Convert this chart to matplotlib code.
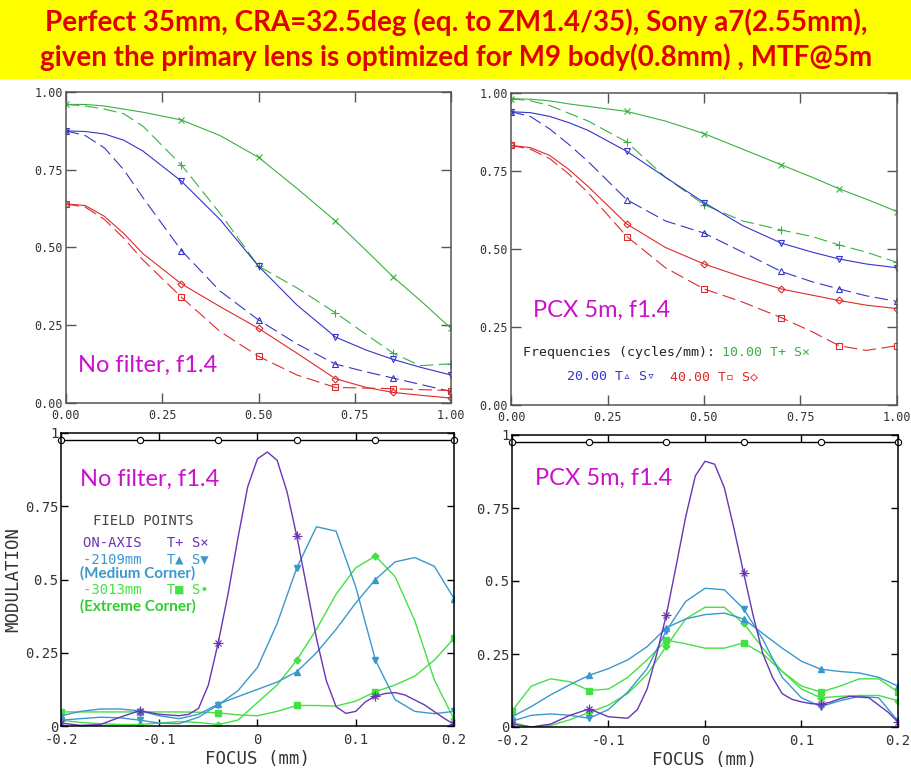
"""MTF vs field and through-focus MTF: no filter vs PCX 5m, Sony a7 sensor stack."""

import matplotlib

matplotlib.use("Agg")
import matplotlib.pyplot as plt
from matplotlib.patches import Rectangle

# ---- top row: MTF vs normalised field ----
FIELD = [0, 0.05, 0.1, 0.15, 0.2, 0.3, 0.4, 0.5, 0.6, 0.7, 0.78, 0.85, 0.92, 1.0]
FIELD_MARKS = [0, 0.3, 0.5, 0.7, 0.85, 1.0]

# no filter
NF_10_S = [.96, .96, .955, .945, .935, .91, .86, .79, .69, .585, .49, .405, .33, .24]
NF_10_T = [.96, .955, .945, .93, .89, .765, .61, .44, .37, .29, .22, .16, .12, .126]
NF_20_S = [.875, .873, .865, .845, .81, .713, .59, .44, .315, .212, .17, .14, .115, .09]
NF_20_T = [.875, .86, .82, .75, .66, .49, .36, .267, .19, .125, .10, .08, .06, .037]
NF_40_S = [.64, .635, .60, .545, .48, .383, .31, .24, .16, .078, .05, .034, .025, .016]
NF_40_T = [.64, .63, .59, .53, .46, .34, .23, .15, .09, .05, .048, .046, .043, .04]

# PCX 5m
PC_10_S = [.982, .98, .975, .965, .957, .941, .91, .87, .82, .77, .73, .693, .66, .62]
PC_10_T = [.982, .975, .96, .935, .91, .843, .73, .642, .59, .561, .54, .513, .49, .457]
PC_20_S = [.94, .937, .925, .905, .88, .813, .73, .649, .575, .519, .49, .468, .452, .44]
PC_20_T = [.94, .925, .885, .835, .78, .658, .59, .551, .49, .428, .395, .372, .35, .332]
PC_40_S = [.832, .825, .80, .755, .70, .58, .505, .452, .41, .372, .352, .335, .32, .309]
PC_40_T = [.832, .82, .79, .74, .68, .54, .44, .372, .33, .28, .235, .19, .175, .19]

# ---- bottom row: through-focus MTF ----
FOCUS = [-0.2, -0.18, -0.16, -0.14, -0.12, -0.1, -0.08, -0.06, -0.04, -0.02, 0.0,
         0.02, 0.04, 0.06, 0.08, 0.1, 0.12, 0.14, 0.16, 0.18, 0.2]
FOCUS_MARKS = [-0.2, -0.12, -0.04, 0.04, 0.12, 0.2]
FOCUS_AXIS = [-0.2, -0.18, -0.16, -0.14, -0.12, -0.1, -0.08, -0.07, -0.06, -0.05, -0.04,
              -0.03, -0.02, -0.01, 0.0, 0.01, 0.02, 0.03, 0.04, 0.05, 0.06, 0.07, 0.08,
              0.09, 0.1, 0.11, 0.12, 0.13, 0.14, 0.15, 0.17, 0.19, 0.2]
DIFF_LIMIT = [0.975, 0.975, 0.975, 0.975, 0.975, 0.975]

NF_AXIS = [.01, .002, .005, .03, .052, .04, .035, .04, .06, .14, .284, .45, .64, .816,
           .912, .935, .907, .80, .648, .475, .30, .155, .066, .043, .05, .083, .102,
           .111, .114, .106, .072, .026, .006]
NF_MED_T = [.035, .05, .058, .058, .052, .035, .025, .04, .075, .10, .125, .15, .185,
            .25, .33, .42, .50, .56, .575, .545, .435]
NF_MED_S = [.02, .025, .03, .028, .02, .01, .008, .03, .072, .12, .20, .35, .54, .68,
            .665, .475, .225, .09, .05, .042, .05]
NF_EXT_T = [.048, .048, .048, .048, .048, .048, .048, .047, .045, .038, .035, .05, .07,
            .07, .068, .085, .117, .14, .17, .225, .299]
NF_EXT_S = [.02, .012, .008, .005, .005, .01, .015, .012, .005, .02, .08, .14, .225,
            .33, .45, .54, .58, .51, .36, .157, .023]

PC_AXIS = [.01, .0, .01, .04, .062, .035, .03, .06, .13, .25, .385, .55, .72, .86,
           .91, .90, .82, .68, .528, .38, .25, .17, .114, .095, .086, .08, .078, .085,
           .097, .105, .10, .05, .017]
PC_MED_T = [.035, .07, .11, .145, .177, .20, .23, .275, .34, .37, .385, .39, .37, .32,
            .27, .225, .198, .19, .185, .17, .14]
PC_MED_S = [.02, .04, .045, .04, .03, .06, .12, .20, .33, .43, .475, .47, .405, .30,
            .17, .10, .07, .09, .105, .10, .02]
PC_EXT_T = [.055, .14, .165, .155, .125, .13, .17, .23, .297, .285, .27, .27, .288, .25,
            .19, .14, .12, .14, .165, .165, .12]
PC_EXT_S = [.015, .0, .005, .025, .05, .075, .115, .18, .277, .37, .41, .41, .355, .27,
            .19, .13, .10, .105, .108, .108, .09]

GREEN, BLUE, RED = "#3cb043", "#3535c8", "#dd2b2b"
PURPLE, SKY, LIME = "#6a35b5", "#3b98cc", "#45e045"
MAGENTA = "#cc11cc"
MONO = ["DejaVu Sans Mono", "DejaVu Sans"]
DASH = (12, 5)
CHAR_W = 0.602  # advance of DejaVu Sans Mono, in em

fig = plt.figure(figsize=(9.12, 7.73), dpi=100)
fig.patches.append(Rectangle((0, 1 - 78 / 773), 1, 78 / 773, transform=fig.transFigure,
                             color="#ffff00", zorder=0))
fig.text(0.5, 1 - 22 / 773, "Perfect 35mm, CRA=32.5deg (eq. to ZM1.4/35), Sony a7(2.55mm),",
         ha="center", va="center", color="#e00000", fontsize=20, fontweight="bold",
         family="Lato")
fig.text(0.5, 1 - 57 / 773, "given the primary lens is optimized for M9 body(0.8mm) , MTF@5m",
         ha="center", va="center", color="#e00000", fontsize=20, fontweight="bold",
         family="Lato")


def style(ax, frame):
    for s in ax.spines.values():
        s.set_color(frame)
        s.set_linewidth(1.1)
    ax.tick_params(direction="in", top=True, right=True, length=7, width=1,
                   color=frame, labelcolor="#333333", labelsize=8.5, pad=2)
    for lab in ax.get_xticklabels() + ax.get_yticklabels():
        lab.set_family(MONO)


def mono_after(ax, x, y, nchars, text, color, size):
    # place text right after nchars monospace characters starting at (x, y)
    ax.annotate(text, xy=(x, y), xycoords="axes fraction",
                xytext=(nchars * CHAR_W * size, 0), textcoords="offset points",
                family=MONO, fontsize=size, va="center", color=color)


def field_panel(rect, s10, t10, s20, t20, s40, t40):
    ax = fig.add_axes(rect)
    idx = [FIELD.index(m) for m in FIELD_MARKS]
    kw = dict(lw=0.8, markevery=idx, mfc="none", mew=0.8)
    ax.plot(FIELD, s10, color=GREEN, marker="x", ms=5, **kw)
    ax.plot(FIELD, t10, color=GREEN, marker="+", ms=6, dashes=DASH, **kw)
    ax.plot(FIELD, s20, color=BLUE, marker="v", ms=4.5, **kw)
    ax.plot(FIELD, t20, color=BLUE, marker="^", ms=4.5, dashes=DASH, **kw)
    ax.plot(FIELD, s40, color=RED, marker="D", ms=3.5, **kw)
    ax.plot(FIELD, t40, color=RED, marker="s", ms=4, dashes=DASH, **kw)
    ax.set_xlim(0, 1)
    ax.set_ylim(0, 1)
    ax.set_xticks([0, 0.25, 0.5, 0.75, 1.0])
    ax.set_yticks([0, 0.25, 0.5, 0.75, 1.0])
    ax.set_xticklabels(["0.00", "0.25", "0.50", "0.75", "1.00"])
    ax.set_yticklabels(["0.00", "0.25", "0.50", "0.75", "1.00"])
    style(ax, "#555555")
    ax.tick_params(axis="x", pad=4)
    return ax


def focus_panel(rect, axis, med_t, med_s, ext_t, ext_s):
    ax = fig.add_axes(rect)
    idx = [FOCUS.index(m) for m in FOCUS_MARKS]
    idx_axis = [FOCUS_AXIS.index(m) for m in FOCUS_MARKS]
    ax.plot(FOCUS_MARKS, DIFF_LIMIT, color="black", lw=1, marker="o", ms=4.5,
            mfc="white", mew=0.8, clip_on=False)
    ax.plot(FOCUS, ext_t, color=LIME, lw=1, marker="s", ms=5, markevery=idx)
    ax.plot(FOCUS, ext_s, color=LIME, lw=1, marker="D", ms=3.5, markevery=idx)
    ax.plot(FOCUS, med_t, color=SKY, lw=1, marker="^", ms=5, markevery=idx)
    ax.plot(FOCUS, med_s, color=SKY, lw=1, marker="v", ms=5, markevery=idx)
    ax.plot(FOCUS_AXIS, axis, color=PURPLE, lw=1, marker="+", ms=7, mew=0.9,
            markevery=idx_axis)
    ax.plot(FOCUS_AXIS, axis, color=PURPLE, lw=0, marker="x", ms=5, mew=0.9,
            markevery=idx_axis)
    ax.set_xlim(-0.2, 0.2)
    ax.set_ylim(0, 1)
    ax.set_xticks([-0.2, -0.1, 0, 0.1, 0.2])
    ax.set_yticks([0, 0.25, 0.5, 0.75, 1.0])
    ax.set_xticklabels(["-0.2", "-0.1", "0", "0.1", "0.2"])
    ax.set_yticklabels(["0", "0.25", "0.5", "0.75", "1"])
    style(ax, "black")
    ax.tick_params(length=5, labelsize=10)
    ax.tick_params(axis="x", pad=5)
    ax.set_xlabel("FOCUS (mm)", family=MONO, fontsize=12.5, color="#333333", labelpad=2)
    return ax


ax1 = field_panel([66 / 912, 1 - 403 / 773, 385 / 912, 311 / 773],
                  NF_10_S, NF_10_T, NF_20_S, NF_20_T, NF_40_S, NF_40_T)
ax1.text(0.031, 0.122, "No filter, f1.4", transform=ax1.transAxes, color=MAGENTA,
         fontsize=17, family="Lato", va="center")

ax2 = field_panel([511 / 912, 1 - 405 / 773, 386 / 912, 312 / 773],
                  PC_10_S, PC_10_T, PC_20_S, PC_20_T, PC_40_S, PC_40_T)
ax2.text(0.057, 0.304, "PCX 5m, f1.4", transform=ax2.transAxes, color=MAGENTA,
         fontsize=17, family="Lato", va="center")
ax2.text(0.031, 0.167, "Frequencies (cycles/mm):", color="#222222",
         transform=ax2.transAxes, family=MONO, fontsize=9.5, va="center")
mono_after(ax2, 0.031, 0.167, 25, "10.00 T+ S\u00d7", GREEN, 9.5)
ax2.text(0.145, 0.09, "20.00 T\u25b5 S\u25bf", color=BLUE,
         transform=ax2.transAxes, family=MONO, fontsize=9.5, va="center")
mono_after(ax2, 0.145, 0.09, 13, "40.00 T\u25ab S\u25c7", RED, 9.5)

ax3 = focus_panel([61 / 912, 1 - 726 / 773, 393 / 912, 293 / 773],
                  NF_AXIS, NF_MED_T, NF_MED_S, NF_EXT_T, NF_EXT_S)
ax3.set_ylabel("MODULATION", family=MONO, fontsize=12.5, color="#333333", labelpad=2)
ax3.text(0.048, 0.843, "No filter, f1.4", transform=ax3.transAxes, color=MAGENTA,
         fontsize=17, family="Lato", va="center")
fp = dict(transform=ax3.transAxes, family=MONO, fontsize=10, va="center")
ax3.text(0.081, 0.70, "FIELD POINTS", color="#444444", **fp)
ax3.text(0.056, 0.625, "ON-AXIS   T+ S\u00d7", color=PURPLE, **fp)
ax3.text(0.056, 0.568, "-2109mm   T\u25b2 S\u25bc", color=SKY, **fp)
ax3.text(0.048, 0.522, "(Medium Corner)", transform=ax3.transAxes, color=SKY,
         fontsize=11, fontweight="bold", family="Lato", va="center")
ax3.text(0.056, 0.464, "-3013mm   T\u25a0 S\u2022", color=LIME, **fp)
ax3.text(0.048, 0.408, "(Extreme Corner)", transform=ax3.transAxes, color="#2ecc2e",
         fontsize=11, fontweight="bold", family="Lato", va="center")

ax4 = focus_panel([512 / 912, 1 - 727 / 773, 386 / 912, 292 / 773],
                  PC_AXIS, PC_MED_T, PC_MED_S, PC_EXT_T, PC_EXT_S)
ax4.text(0.06, 0.85, "PCX 5m, f1.4", transform=ax4.transAxes, color=MAGENTA,
         fontsize=17, family="Lato", va="center")

fig.savefig("out.png", dpi=100)
